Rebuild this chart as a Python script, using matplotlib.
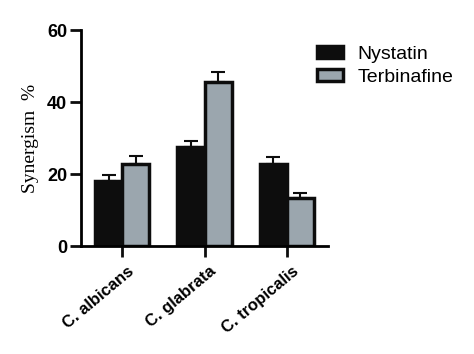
import matplotlib
matplotlib.use("Agg")
import matplotlib.pyplot as plt
import matplotlib.transforms as mtransforms
import numpy as np

categories = ["C. albicans", "C. glabrata", "C. tropicalis"]
series_names = ["Nystatin", "Terbinafine"]
nystatin = [18.0, 27.4, 22.9]
nystatin_err = [1.8, 1.7, 1.8]
terbinafine = [22.8, 45.6, 13.4]
terbinafine_err = [2.3, 2.7, 1.3]
yticks = [0, 20, 40, 60]

fig = plt.figure(figsize=(4.74, 3.54), dpi=100)
ax = fig.add_axes([0.171, 0.305, 0.521, 0.61])

x = np.arange(len(categories))
w = 0.33
colors = ["#0d0d0d", "#9ba6ae"]
for i, (vals, errs, name, c) in enumerate(zip([nystatin, terbinafine],
                                               [nystatin_err, terbinafine_err],
                                               series_names, colors)):
    pos = x + (i - 0.5) * w
    ax.bar(pos, vals, width=w, color=c, edgecolor="#0d0d0d", linewidth=2.5,
           label=name, zorder=2)
    ax.errorbar(pos, vals, yerr=[np.zeros(len(vals)), errs], fmt="none",
                ecolor="#0d0d0d", elinewidth=1.5, capsize=5, capthick=1.5, zorder=1)

ax.set_xlim(-0.5, 2.5)
ax.set_ylim(0, 60)
ax.set_yticks(yticks)
ax.set_xticks(x)
ax.spines["top"].set_visible(False)
ax.spines["right"].set_visible(False)
ax.spines["left"].set_linewidth(2)
ax.spines["bottom"].set_linewidth(2)
ax.tick_params(axis="both", width=2, length=8, color="#0d0d0d")
ax.tick_params(axis="x", pad=3)
ax.tick_params(axis="y", pad=2)
ax.set_xticklabels(categories, rotation=40, ha="right", rotation_mode="anchor",
                   fontsize=12, fontweight="bold", family="Liberation Sans")
offset = mtransforms.ScaledTranslation(5 / 100, -2 / 100, fig.dpi_scale_trans)
for lab in ax.get_xticklabels():
    lab.set_transform(lab.get_transform() + offset)
for lab in ax.get_yticklabels():
    lab.set_fontsize(13)
    lab.set_fontweight("bold")
    lab.set_family("Liberation Sans")
ax.set_ylabel("Synergism  %", fontsize=14, family="Liberation Serif", labelpad=6)

leg = ax.legend(loc="upper left", bbox_to_anchor=(0.955, 0.925), frameon=False,
                borderaxespad=0, borderpad=0,
                prop={"family": "Liberation Sans", "size": 14},
                handlelength=1.35, handleheight=0.57, handletextpad=0.75, labelspacing=0.3)

fig.savefig("out.png", dpi=100)
